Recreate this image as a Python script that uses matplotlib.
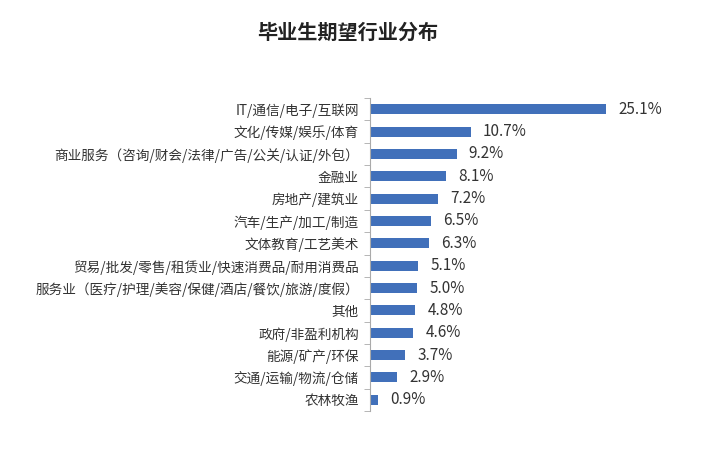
import numpy as np
from matplotlib import pyplot as plt

plt.rcParams['font.family'] = ['Noto Sans CJK SC', 'DejaVu Sans']

categories = ['IT/通信/电子/互联网', '文化/传媒/娱乐/体育', '商业服务（咨询/财会/法律/广告/公关/认证/外包）',
              '金融业', '房地产/建筑业', '汽车/生产/加工/制造', '文体教育/工艺美术',
              '贸易/批发/零售/租赁业/快速消费品/耐用消费品',
              '服务业（医疗/护理/美容/保健/酒店/餐饮/旅游/度假）', '其他',
              '政府/非盈利机构', '能源/矿产/环保', '交通/运输/物流/仓储', '农林牧渔']
values = [25.1, 10.7, 9.2, 8.1, 7.2, 6.5, 6.3, 5.1, 5.0, 4.8, 4.6, 3.7, 2.9, 0.9]
title = '毕业生期望行业分布'

fig = plt.figure(figsize=(7.21, 4.49), dpi=100)
ax = fig.add_axes([370 / 721, 1 - 411 / 449, 320 / 721, 313 / 449])

y = np.arange(len(categories))
ax.barh(y, values, height=0.45, color='#4170BA')
for yi, v in zip(y, values):
    ax.text(v + 1.3, yi, f'{v:.1f}%', va='center', ha='left', fontsize=11, color='#333333')

ax.set_xlim(0, 34)
ax.set_ylim(len(categories) - 0.5, -0.5)
ax.set_yticks(y)
ax.set_yticklabels(categories, fontsize=9.8, color='#333333')
ax.set_yticks(np.arange(len(categories) + 1) - 0.5, minor=True)
ax.tick_params(axis='y', which='major', length=0, pad=8)
ax.tick_params(axis='y', which='minor', length=4, color='#aaaaaa', direction='out')
ax.set_xticks([])
for s in ['top', 'right', 'bottom']:
    ax.spines[s].set_visible(False)
ax.spines['left'].set_color('#aaaaaa')

fig.text(348 / 721, 1 - 32 / 449, title, ha='center', va='center', fontsize=14.5, fontweight='bold', color='#222222')

fig.savefig('out.png', dpi=100)
